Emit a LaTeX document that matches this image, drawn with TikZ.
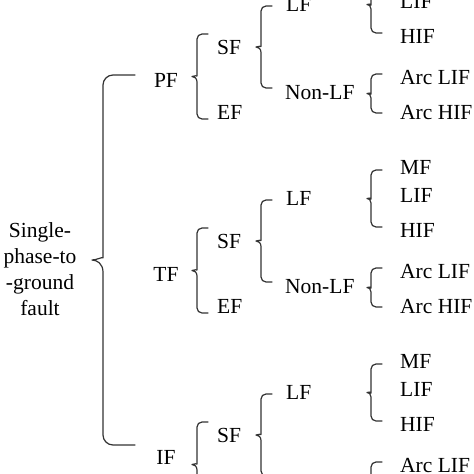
\documentclass[tikz,border=0pt]{standalone}
\usepackage{fontspec}
\setmainfont{Liberation Serif}
\tikzset{
  lbl/.style={inner sep=0pt, font=\fontsize{21.5}{26}\selectfont, text=black},
  lft/.style={lbl, anchor=west},
  brc/.style={draw=black!80, line width=1.2pt, line cap=round, line join=round},
}
% #1 vertical x, #2 tip x, #3 cusp x, #4 top y, #5 bottom y, #6 corner radius
\newcommand{\fbr}[6]{%
  \pgfmathsetmacro\bm{(#4+#5)/2}%
  \pgfmathsetmacro\bh{(#1-#3)*1.1}%
  \pgfmathsetmacro\bc{#3+0.45*(#1-#3)}%
  \draw[brc,rounded corners=#6] (#2,#4) -- (#1,#4) -- (#1,{\bm-\bh})
    [sharp corners] .. controls (#1,{\bm-0.3*\bh}) and (\bc,\bm) .. (#3,\bm)
    .. controls (\bc,\bm) and (#1,{\bm+0.3*\bh}) .. (#1,{\bm+\bh})
    [rounded corners=#6] -- (#1,#5) -- (#2,#5);}
\begin{document}
\begin{tikzpicture}[x=1pt,y=-1pt]
\path[use as bounding box,fill=white] (0,0) rectangle (474,474);
\clip (0,0) rectangle (474,474);

% root
\node[lbl,align=center] (root) at (40,269) {Single-\\phase-to\\-ground\\fault};
\fbr{103}{135}{92}{75}{445}{10pt}

% group PF
\begin{scope}[yshift=194pt]
  \node[lbl] (p) at (166,274) {PF};
  \node[lft] (psf) at (217,241) {SF};
  \node[lft] (pef) at (217,306) {EF};
  \node[lft] (plf) at (286,198) {LF};
  \node[lft] (pnlf) at (285,287) {Non-LF};
  \node[lft] (plif) at (400,195) {LIF};
  \node[lft] (phif) at (400,230) {HIF};
  \node[lft] (pal) at (400,272) {Arc LIF};
  \node[lft] (pah) at (400,307) {Arc HIF};
  \fbr{197}{208}{192}{228}{313}{5pt}
  \fbr{261}{272}{256}{200}{282}{5pt}
  \fbr{371}{382}{367}{170}{227}{5pt}
  \fbr{371}{382}{367}{268}{307}{5pt}
\end{scope}

% group TF
\node[lbl] (t) at (166,274) {TF};
\node[lft] (tsf) at (217,241) {SF};
\node[lft] (tef) at (217,306) {EF};
\node[lft] (tlf) at (286,198) {LF};
\node[lft] (tnlf) at (285,287) {Non-LF};
\node[lft] (tmf) at (400,167) {MF};
\node[lft] (tlif) at (400,195) {LIF};
\node[lft] (thif) at (400,230) {HIF};
\node[lft] (tal) at (400,272) {Arc LIF};
\node[lft] (tah) at (400,307) {Arc HIF};
\fbr{197}{208}{192}{228}{313}{5pt}
\fbr{261}{272}{256}{200}{282}{5pt}
\fbr{371}{382}{367}{170}{227}{5pt}
\fbr{371}{382}{367}{268}{307}{5pt}

% group IF
\begin{scope}[yshift=-194pt]
  \node[lbl] (i) at (166,263) {IF};
  \node[lft] (isf) at (217,241) {SF};
  \node[lft] (ilf) at (286,198) {LF};
  \node[lft] (imf) at (400,167) {MF};
  \node[lft] (ilif) at (400,195) {LIF};
  \node[lft] (ihif) at (400,230) {HIF};
  \node[lft] (ial) at (400,272) {Arc LIF};
  \fbr{197}{208}{192}{228}{313}{5pt}
  \fbr{261}{272}{256}{200}{282}{5pt}
  \fbr{371}{382}{367}{170}{227}{5pt}
  \fbr{371}{382}{367}{268}{307}{5pt}
\end{scope}
\end{tikzpicture}
\end{document}
